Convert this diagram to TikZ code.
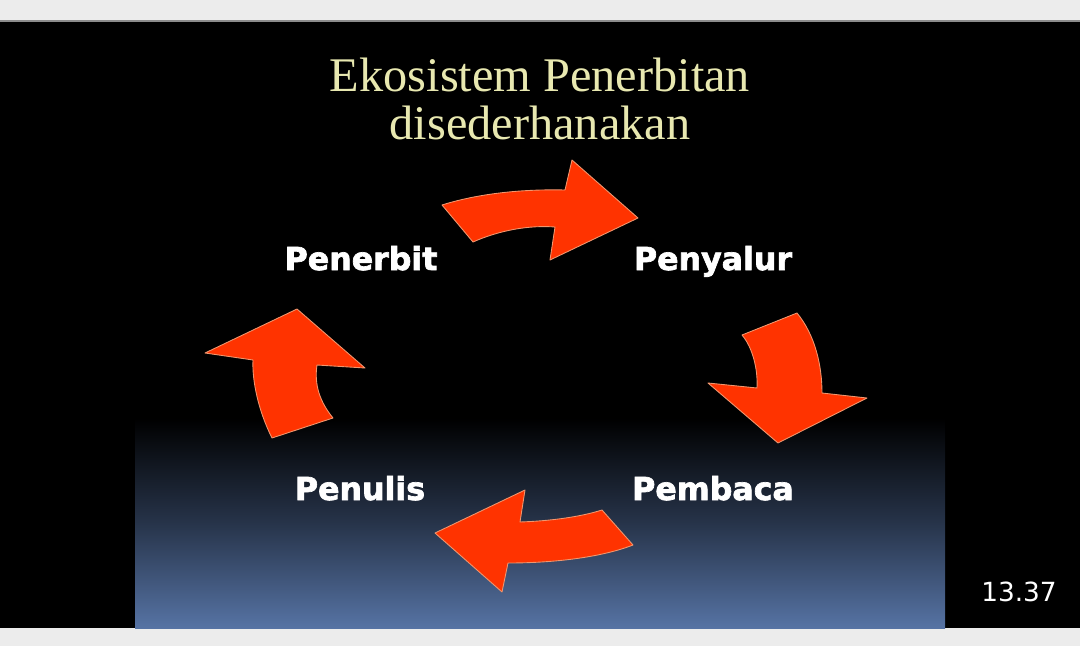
\documentclass[tikz,border=0pt]{standalone}
\usepackage{fontspec}
\setmainfont{Liberation Serif}
\newfontfamily\rolefont{DejaVu Sans}[BoldFeatures={FakeBold=2.2}]
\newfontfamily\clockfont{DejaVu Sans}
\usetikzlibrary{positioning}

\definecolor{arrowred}{RGB}{255,51,0}
\definecolor{arrowedge}{RGB}{240,150,110}
\definecolor{titleyellow}{RGB}{232,232,176}
\definecolor{slateblue}{RGB}{86,115,164}
\definecolor{framegray}{RGB}{236,236,236}

\tikzset{
  bigarrow/.style={fill=arrowred, draw=arrowedge, line width=0.5pt, line join=round},
  role/.style={font=\rolefont\bfseries\fontsize{18}{20}\selectfont, text=white, anchor=base},
}

\begin{document}
\begin{tikzpicture}[x=0.02cm,y=-0.02cm]
	% frame and background
	\fill[framegray] (0,0) rectangle (1080,646);
	\fill[black!45] (0,20) rectangle (1080,23);
	\fill[black] (0,22) rectangle (1080,628);
	\shade[top color=black, bottom color=slateblue, middle color=black!55!slateblue] (135,418) rectangle (945,628);

	% title
	\node[font=\fontsize{27.5}{27}\selectfont, text=titleyellow, align=center](title) at (540,99) {Ekosistem Penerbitan\\disederhanakan};

	% the four parties
	\node[role](penerbit) at (361,270) {Penerbit};
	\node[role](penyalur) at (713,270) {Penyalur};
	\node[role](penulis) at (360,500) {Penulis};
	\node[role](pembaca) at (713,500) {Pembaca};

	% curved block arrows
	\draw[bigarrow] (442,205) .. controls (480,193) and (525,189) .. (565,190) -- (572,160) -- (638,218)
		-- (550,260) -- (555,227) .. controls (530,225) and (500,230) .. (473,242) -- cycle;
	\draw[bigarrow] (742,335) -- (797,313) .. controls (815,335) and (822,365) .. (822,393) -- (867,398)
		-- (778,443) -- (708,383) -- (757,388) .. controls (758,370) and (753,348) .. cycle;
	\draw[bigarrow] (602,510) -- (633,545) .. controls (605,556) and (560,563) .. (508,563) -- (502,592)
		-- (435,533) -- (525,490) -- (520,522) .. controls (550,521) and (580,517) .. cycle;
	\draw[bigarrow] (272,438) .. controls (258,410) and (252,380) .. (253,360) -- (205,353) -- (297,309)
		-- (365,368) -- (317,365) .. controls (314,385) and (320,402) .. (333,418) -- cycle;

	% clock
	\node[font=\clockfont\fontsize{15}{18}\selectfont, text=white](clock) at (1019,592) {13.37};
\end{tikzpicture}
\end{document}
